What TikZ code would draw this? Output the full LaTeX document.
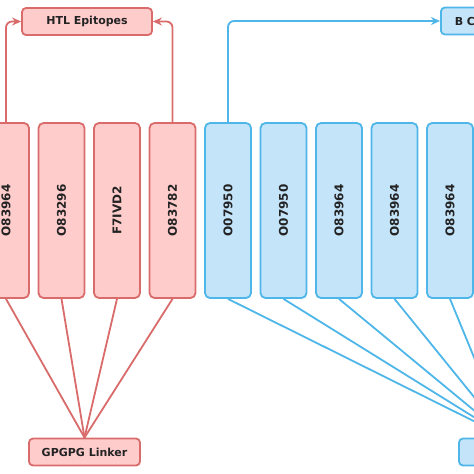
\documentclass[tikz,border=0pt]{standalone}
\usepackage{fontspec}
\setmainfont{DejaVu Sans}
\usetikzlibrary{arrows.meta}
\definecolor{pinkfill}{RGB}{255,204,204}
\definecolor{pinkline}{RGB}{217,107,107}
\definecolor{bluefill}{RGB}{196,228,250}
\definecolor{blueline}{RGB}{78,182,232}
\definecolor{textgray}{RGB}{35,35,35}
\tikzset{
  colbox/.style={draw=#1line, fill=#1fill, line width=1.8pt, rounded corners=5pt,
    minimum width=46pt, minimum height=175pt, inner sep=0pt,
    font=\bfseries\fontsize{12}{12}\selectfont, text=textgray},
  labelbox/.style={draw=#1line, fill=#1fill, line width=1.8pt, rounded corners=4pt,
    minimum height=27pt, inner sep=0pt,
    font=\bfseries\fontsize{11}{11}\selectfont, text=textgray},
  pinkwire/.style={draw=pinkline, line width=1.8pt},
  bluewire/.style={draw=blueline, line width=1.8pt},
  tip/.style={-{Stealth[length=9pt, width=8pt]}, rounded corners=6pt}
}
\begin{document}
\begin{tikzpicture}[x=1pt, y=-1pt]
  \useasboundingbox (0,0) rectangle (474,474);
  \clip (0,0) rectangle (474,474);
  % protein columns
  \foreach \name [count=\i from 0] in {O83964,O83296,F7IVD2,O83782}
    \node[colbox=pink] (p\i) at (6+55.5*\i, 210.5) {\rotatebox{90}{\name}};
  \foreach \name [count=\i from 4] in {O07950,O07950,O83964,O83964,O83964}
    \node[colbox=blue] (b\i) at (6+55.5*\i, 210.5) {\rotatebox{90}{\name}};
  % epitope and linker boxes
  \node[labelbox=pink, minimum width=130pt] (htl) at (87,21.5) {HTL Epitopes};
  \node[labelbox=blue, anchor=west, inner xsep=14pt, text width=80pt, align=left] (bcell) at (440,21) {B C};
  \node[labelbox=pink, minimum width=111pt] (gpgpg) at (84.5,452) {GPGPG Linker};
  \node[labelbox=blue, minimum width=96pt] (blink) at (507,452) {};
  % connectors
  \draw[pinkwire, tip] (p0.north) |- (htl.west);
  \draw[pinkwire, tip] (p3.north) |- (htl.east);
  \draw[bluewire, tip] (b4.north) |- (bcell.west);
  \foreach \i in {0,...,3}
    \draw[pinkwire] (p\i.south) -- (gpgpg.north);
  \foreach \i in {4,...,8}
    \draw[bluewire] (b\i.south) -- (blink.north);
\end{tikzpicture}
\end{document}
